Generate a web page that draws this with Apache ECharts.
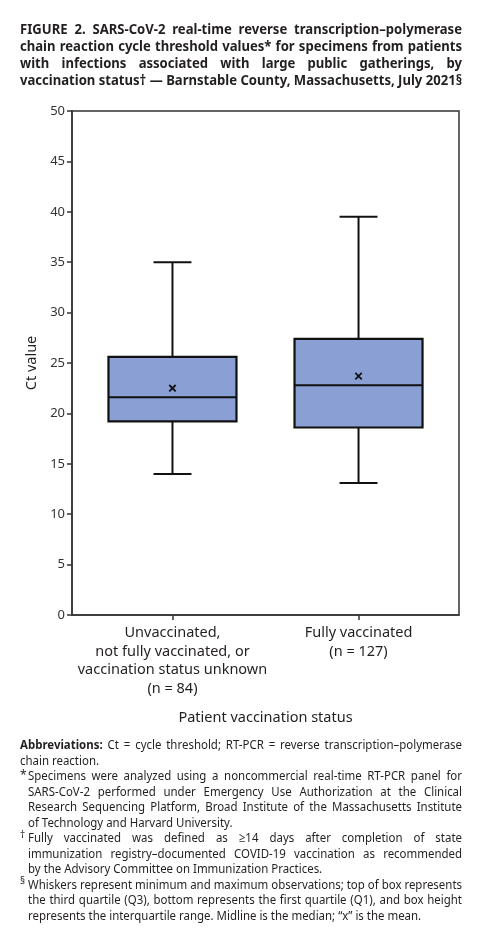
<!DOCTYPE html>
<html><head><meta charset="utf-8">
<script src="https://cdn.jsdelivr.net/npm/echarts@6/dist/echarts.min.js"></script>
<style>html,body{margin:0;padding:0;background:#fff}#c{width:500px;height:939px}</style>
</head><body><div id="c"></div>
<script>
// ---- data ----
const categories = ['Unvaccinated,\nnot fully vaccinated, or\nvaccination status unknown\n(n = 84)', 'Fully vaccinated\n(n = 127)'];
const mins    = [14.0, 13.1];
const q1s     = [19.2, 18.6];
const medians = [21.6, 22.8];
const q3s     = [25.6, 27.4];
const maxs    = [35.0, 39.5];
const means   = [22.5, 23.7];
const yMin = 0, yMax = 50, yStep = 5;

const titleLines = [
  'FIGURE 2. SARS-CoV-2 real-time reverse transcription\u2013polymerase',
  'chain reaction cycle threshold values* for specimens from patients',
  'with infections associated with large public gatherings, by',
  'vaccination status\u2020 \u2014 Barnstable County, Massachusetts, July 2021\u00a7'
];
const fnAbbrevLabel = 'Abbreviations:';
const fnAbbrev = ['Ct = cycle threshold; RT-PCR = reverse transcription\u2013polymerase', 'chain reaction.'];
const fnStar = ['Specimens were analyzed using a noncommercial real-time RT-PCR panel for',
  'SARS-CoV-2 performed under Emergency Use Authorization at the Clinical',
  'Research Sequencing Platform, Broad Institute of the Massachusetts Institute',
  'of Technology and Harvard University.'];
const fnDagger = ['Fully vaccinated was defined as \u226514 days after completion of state',
  'immunization registry\u2013documented COVID-19 vaccination as recommended',
  'by the Advisory Committee on Immunization Practices.'];
const fnSect = ['Whiskers represent minimum and maximum observations; top of box represents',
  'the third quartile (Q3), bottom represents the first quartile (Q1), and box height',
  'represents the interquartile range. Midline is the median; \u201cx\u201d is the mean.'];

const boxData = categories.map((c, i) => [i, mins[i], q1s[i], medians[i], q3s[i], maxs[i], means[i]]);

// ---- text layout helpers ----
const FONT = '"Noto Sans", "Open Sans", sans-serif';
const LH = 15.5;
const fnTop = 738;
const TITLE_FONT = 'bold 14.5px ' + FONT;
const FN_FONT = '13px ' + FONT;
const FN_BOLD = 'bold 13px ' + FONT;
const INK = '#231f20';

const mctx = document.createElement('canvas').getContext('2d');
function w(str, font) { mctx.font = font; return mctx.measureText(str).width; }

// words: [{t, f}] ; returns graphic elements laid out justified (or natural if last)
function lineEls(words, x, y, width, scale, justify, lh) {
  const widths = words.map(o => w(o.t, o.f) * scale);
  const sum = widths.reduce((a, b) => a + b, 0);
  const space = w(' ', words[0].f) * scale;
  let gap = space;
  if (justify && words.length > 1) gap = Math.max(space * 0.6, (width - sum) / (words.length - 1));
  const out = [];
  let cx = x;
  words.forEach((o, k) => {
    out.push({type: 'text', x: cx, y: y, scaleX: scale, style: {text: o.t, font: o.f, fill: INK, lineHeight: lh}});
    cx += widths[k] + gap;
  });
  return out;
}
function wordsOf(str, font) { return str.split(' ').map(t => ({t: t, f: font})); }
function natural(words) { return words.reduce((a, o) => a + w(o.t, o.f), 0) + w(' ', words[0].f) * (words.length - 1); }

// title
const titleWords = titleLines.map(l => wordsOf(l, TITLE_FONT));
const titleScale = Math.min.apply(null, titleWords.map(ws => 442 / natural(ws)));
const graphics = [];
titleWords.forEach((ws, k) => {
  graphics.push.apply(graphics, lineEls(ws, 20, 22 + k * 16.7, 442, titleScale, true, 16.7));
});

// footnotes
const paras = [
  {x: 20, width: 442, lines: [[{t: fnAbbrevLabel, f: FN_BOLD}].concat(wordsOf(fnAbbrev[0], FN_FONT)), wordsOf(fnAbbrev[1], FN_FONT)]},
  {x: 28, width: 434, mark: '*', markFont: '12px ' + FONT, markDy: 1, lines: fnStar.map(l => wordsOf(l, FN_FONT))},
  {x: 28, width: 434, mark: '\u2020', markFont: '10px ' + FONT, markDy: -1, lines: fnDagger.map(l => wordsOf(l, FN_FONT))},
  {x: 28, width: 434, mark: '\u00a7', markFont: '10px ' + FONT, markDy: -1, lines: fnSect.map(l => wordsOf(l, FN_FONT))}
];
let fnScale = 1;
paras.forEach(p => p.lines.forEach((ws, k) => {
  if (k < p.lines.length - 1) fnScale = Math.min(fnScale, p.width / natural(ws));
}));
let row = 0;
paras.forEach(p => {
  if (p.mark) graphics.push({type: 'text', x: 20, y: fnTop + row * LH + p.markDy, style: {text: p.mark, font: p.markFont, fill: INK}});
  p.lines.forEach((ws, k) => {
    graphics.push.apply(graphics, lineEls(ws, p.x, fnTop + row * LH, p.width, fnScale, k < p.lines.length - 1, LH));
    row++;
  });
});

const chart = echarts.init(document.getElementById('c'), null, {renderer: 'canvas'});

const option = {
  backgroundColor: '#fff',
  animation: false,
  grid: {left: 72, right: 41, top: 111, bottom: 324, show: true, borderColor: '#333', borderWidth: 1.5, backgroundColor: 'transparent'},
  xAxis: {
    type: 'value', min: -0.54, max: 1.54,
    name: 'Patient vaccination status', nameLocation: 'middle', nameGap: 95,
    nameTextStyle: {fontFamily: FONT, fontSize: 14.5, color: INK},
    splitLine: {show: false},
    axisLine: {show: true, onZero: false, lineStyle: {color: '#333', width: 1.5}},
    axisTick: {show: true, length: 5, lineStyle: {color: '#333', width: 1.5}, customValues: [0, 1]},
    axisLabel: {customValues: [0, 1], formatter: v => categories[Math.round(v)] || '',
      fontFamily: FONT, fontSize: 14.5, color: INK, lineHeight: 18.5, margin: 9, align: 'center'}
  },
  yAxis: {
    type: 'value', min: yMin, max: yMax, interval: yStep,
    name: 'Ct value', nameLocation: 'middle', nameGap: 32,
    nameTextStyle: {fontFamily: FONT, fontSize: 14.5, color: INK},
    splitLine: {show: false},
    axisLine: {show: true, onZero: false, lineStyle: {color: '#333', width: 1.5}},
    axisTick: {show: true, length: 5, lineStyle: {color: '#333', width: 1.5}},
    axisLabel: {fontFamily: FONT, fontSize: 13, color: '#333', margin: 7}
  },
  series: [{
    type: 'custom',
    data: boxData,
    encode: {x: 0, y: [1, 2, 3, 4, 5, 6]},
    renderItem: function (params, api) {
      const i = api.value(0);
      const unit = api.size([1, 0])[0];
      const hb = unit * 0.344, hc = unit * 0.102, hm = 3.2;
      const pMin = api.coord([i, api.value(1)]);
      const pQ1 = api.coord([i, api.value(2)]);
      const pMed = api.coord([i, api.value(3)]);
      const pQ3 = api.coord([i, api.value(4)]);
      const pMax = api.coord([i, api.value(5)]);
      const pMean = api.coord([i, api.value(6)]);
      const x = pMed[0];
      const ls = {stroke: '#111', lineWidth: 2, fill: null};
      return {type: 'group', children: [
        {type: 'line', shape: {x1: x, y1: pMax[1], x2: x, y2: pQ3[1]}, style: ls},
        {type: 'line', shape: {x1: x, y1: pQ1[1], x2: x, y2: pMin[1]}, style: ls},
        {type: 'line', shape: {x1: x - hc, y1: pMax[1], x2: x + hc, y2: pMax[1]}, style: ls},
        {type: 'line', shape: {x1: x - hc, y1: pMin[1], x2: x + hc, y2: pMin[1]}, style: ls},
        {type: 'rect', shape: {x: x - hb, y: pQ3[1], width: 2 * hb, height: pQ1[1] - pQ3[1]},
          style: {fill: '#8a9fd4', stroke: '#111', lineWidth: 2.2}},
        {type: 'line', shape: {x1: x - hb, y1: pMed[1], x2: x + hb, y2: pMed[1]}, style: ls},
        {type: 'line', shape: {x1: pMean[0] - hm, y1: pMean[1] - hm, x2: pMean[0] + hm, y2: pMean[1] + hm}, style: {stroke: '#111', lineWidth: 1.8}},
        {type: 'line', shape: {x1: pMean[0] - hm, y1: pMean[1] + hm, x2: pMean[0] + hm, y2: pMean[1] - hm}, style: {stroke: '#111', lineWidth: 1.8}}
      ]};
    }
  }],
  graphic: graphics
};
chart.setOption(option);
</script></body></html>
